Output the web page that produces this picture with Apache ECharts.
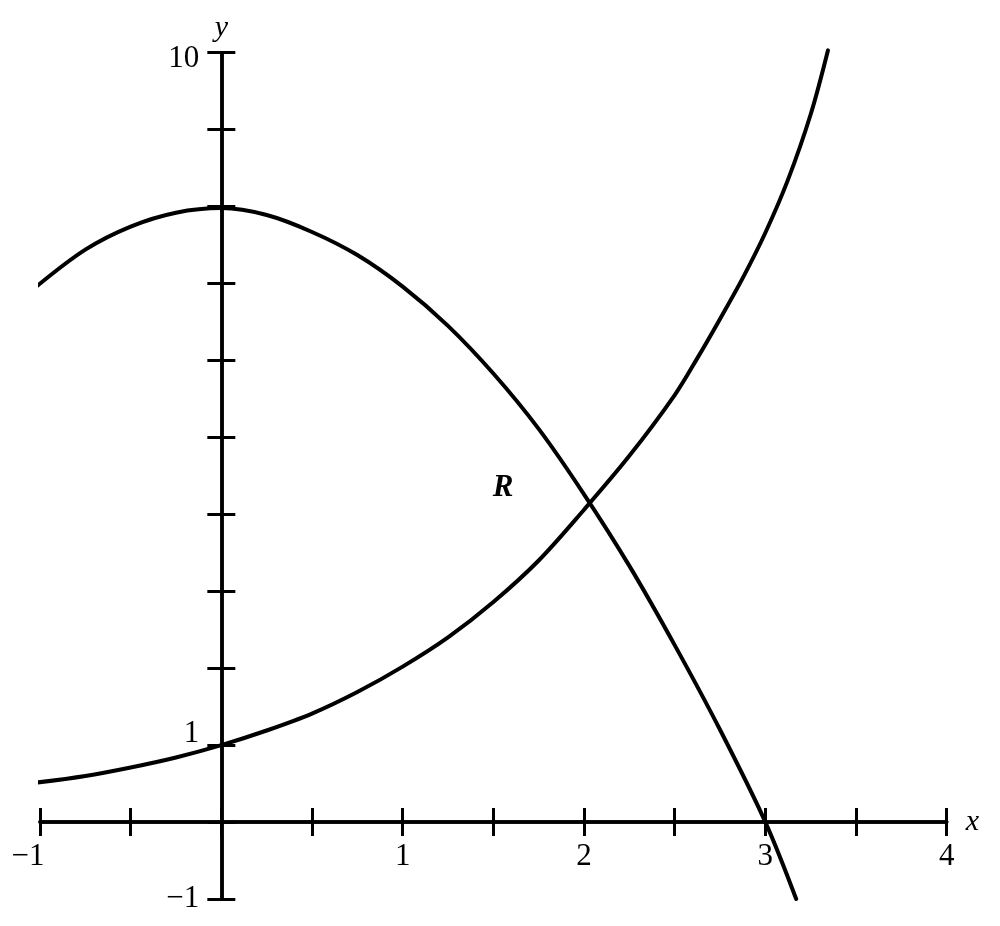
<!DOCTYPE html>
<html><head><meta charset="utf-8">
<style>html,body{margin:0;padding:0;background:#fff}#c{width:1000px;height:926px}</style>
<script src="https://cdn.jsdelivr.net/npm/echarts@6.0.0/dist/echarts.min.js"></script>
</head><body><div id="c"></div>
<script>
// Decreasing curve
const fX = [-1.02, -0.75, -0.5, -0.25, 0, 0.25, 0.5, 0.75, 1, 1.25, 1.5, 1.75, 2, 2.25, 2.5, 2.75, 3, 3.17];
const fY = [6.96, 7.44, 7.74, 7.92, 7.98, 7.89, 7.67, 7.37, 6.96, 6.45, 5.83, 5.11, 4.26, 3.33, 2.30, 1.20, 0.0, -1.0];
// Increasing curve
const gX = [-1.065, -0.75, -0.5, -0.25, 0, 0.25, 0.5, 0.75, 1, 1.25, 1.5, 1.75, 2, 2.25, 2.5, 2.625, 2.75, 2.875, 3, 3.125, 3.25, 3.345];
const gY = [0.50, 0.60, 0.71, 0.84, 1.0, 1.19, 1.41, 1.69, 2.02, 2.40, 2.86, 3.40, 4.06, 4.76, 5.55, 6.03, 6.54, 7.07, 7.66, 8.35, 9.2, 10.03];
// Axis ranges and printed tick labels
const xRange = [-1, 4];
const yRange = [-1, 10];
const xLabelValues = [-1, 1, 2, 3, 4];
const yLabelValues = [-1, 1, 10];
// Region label
const regionName = 'R';
const regionPos = [1.554, 4.34];

const FONT = "'Liberation Serif', 'Times New Roman', serif";
const fmtNum = v => (v < 0 ? '\u2212' + Math.abs(v) : String(v));
const has = (arr, v) => arr.some(a => Math.abs(a - v) < 1e-9);

const W = 1000, H = 926;
const G = { left: 40, right: 53.3, top: 52.7, bottom: 27 };
const plotW = W - G.left - G.right, plotH = H - G.top - G.bottom;
// move the labelled axes onto the zero lines
const yAxisOffset = -plotW * (0 - xRange[0]) / (xRange[1] - xRange[0]);
const xAxisOffset = -plotH * (0 - yRange[0]) / (yRange[1] - yRange[0]);

const chart = echarts.init(document.getElementById('c'));
const axisLineStyle = { color: '#000', width: 3.5 };
const tickStyle = { color: '#000', width: 3 };

chart.setOption({
  animation: false,
  backgroundColor: '#fff',
  grid: { left: G.left, right: G.right, top: G.top, bottom: G.bottom, containLabel: false, outerBoundsMode: 'none' },
  xAxis: [
    {
      type: 'value', min: xRange[0], max: xRange[1], interval: 0.5,
      position: 'bottom', offset: xAxisOffset,
      axisLine: { show: true, onZero: false, lineStyle: axisLineStyle },
      axisTick: { show: true, inside: false, length: 14, lineStyle: tickStyle },
      splitLine: { show: false },
      axisLabel: {
        show: true, margin: 19, fontFamily: FONT, fontSize: 31, color: '#000',
        showMinLabel: true, showMaxLabel: true, hideOverlap: false,
        formatter: v => {
          if (!has(xLabelValues, v)) return '';
          if (v < 0) return '{neg|' + fmtNum(v) + '}';
          return fmtNum(v);
        },
        rich: { neg: { fontFamily: FONT, fontSize: 31, color: '#000', padding: [0, 24, 0, 0] } }
      },
      name: 'x', nameLocation: 'end', nameGap: 19,
      nameTextStyle: { fontFamily: FONT, fontSize: 30, fontStyle: 'italic', color: '#000', padding: [0, 0, 6, 0] }
    },
    {
      type: 'value', min: xRange[0], max: xRange[1], interval: 0.5,
      position: 'top',
      axisLine: { show: true, onZero: true, onZeroAxisIndex: 0, lineStyle: axisLineStyle },
      axisTick: { show: true, inside: false, length: 14, lineStyle: tickStyle },
      splitLine: { show: false },
      axisLabel: { show: false }
    }
  ],
  yAxis: [
    {
      type: 'value', min: yRange[0], max: yRange[1], interval: 1,
      position: 'left', offset: yAxisOffset,
      axisLine: { show: true, onZero: false, lineStyle: axisLineStyle },
      axisTick: { show: true, inside: false, length: 14, lineStyle: tickStyle },
      splitLine: { show: false },
      axisLabel: {
        show: true, margin: 22, fontFamily: FONT, fontSize: 31, color: '#000',
        showMinLabel: true, showMaxLabel: true, hideOverlap: false,
        formatter: v => {
          if (!has(yLabelValues, v)) return '';
          if (v === 10) return '{top|' + fmtNum(v) + '}';
          if (v === 1) return '{up|' + fmtNum(v) + '}';
          return fmtNum(v);
        },
        rich: {
          top: { fontFamily: FONT, fontSize: 31, color: '#000', padding: [12, 0, 0, 0] },
          up: { fontFamily: FONT, fontSize: 31, color: '#000', padding: [0, 0, 22, 0] }
        }
      },
      name: 'y', nameLocation: 'end', nameGap: 10,
      nameTextStyle: { fontFamily: FONT, fontSize: 30, fontStyle: 'italic', color: '#000' }
    },
    {
      type: 'value', min: yRange[0], max: yRange[1], interval: 1,
      position: 'right',
      axisLine: { show: true, onZero: true, onZeroAxisIndex: 0, lineStyle: axisLineStyle },
      axisTick: { show: true, inside: false, length: 14, lineStyle: tickStyle },
      splitLine: { show: false },
      axisLabel: { show: false }
    }
  ],
  series: [
    {
      type: 'line', name: 'f', clip: false, smooth: 0.33, showSymbol: false, symbol: 'none',
      lineStyle: { color: '#000', width: 4, cap: 'round' },
      data: fX.map((x, i) => [x, fY[i]])
    },
    {
      type: 'line', name: 'g', clip: false, smooth: 0.33, showSymbol: false, symbol: 'none',
      lineStyle: { color: '#000', width: 4, cap: 'round' },
      data: gX.map((x, i) => [x, gY[i]])
    },
    {
      type: 'scatter', name: 'region', symbolSize: 1, itemStyle: { color: 'rgba(0,0,0,0)' },
      label: {
        show: true, position: 'inside', formatter: regionName, opacity: 1,
        fontFamily: FONT, fontSize: 31, fontStyle: 'italic', fontWeight: 'bold', color: '#000'
      },
      emphasis: { disabled: true },
      data: [regionPos]
    }
  ]
});
</script></body></html>
